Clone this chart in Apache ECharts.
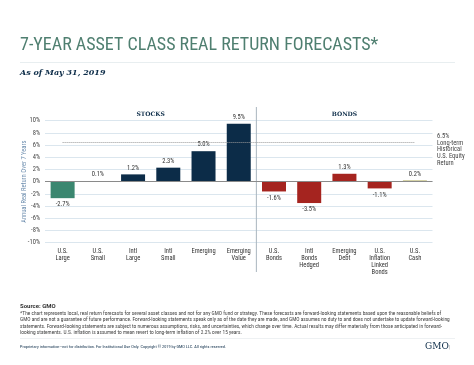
<!DOCTYPE html>
<html><head><meta charset="utf-8">
<script src="https://cdn.jsdelivr.net/npm/echarts@6/dist/echarts.min.js"></script>
<style>html,body{margin:0;padding:0;background:#fff}#c{width:474px;height:365px}</style>
</head><body><div id="c"></div>
<script>
var categories = ['U.S.\nLarge','U.S.\nSmall','Intl\nLarge','Intl\nSmall','Emerging','Emerging\nValue','U.S.\nBonds','Intl\nBonds\nHedged','Emerging\nDebt','U.S.\nInflation\nLinked\nBonds','U.S.\nCash'];
var values = [-2.7, 0.1, 1.2, 2.3, 5.0, 9.5, -1.6, -3.5, 1.3, -1.1, 0.2];
var barColors = ['#3b8770','#0c2c48','#0c2c48','#0c2c48','#0c2c48','#0c2c48','#a5241f','#a5241f','#a5241f','#a5241f','#b0ab55'];
var yTicks = [-10,-8,-6,-4,-2,0,2,4,6,8,10];
var historicalReturn = 6.5;
var footnote = [
 '*The chart represents local, real return forecasts for several asset classes and not for any GMO fund or strategy. These forecasts are forward-looking statements based upon the reasonable beliefs of',
 'GMO and are not a guarantee of future performance. Forward-looking statements speak only as of the date they are made, and GMO assumes no duty to and does not undertake to update forward-looking',
 'statements. Forward-looking statements are subject to numerous assumptions, risks, and uncertainties, which change over time. Actual results may differ materially from those anticipated in forward-',
 'looking statements. U.S. inflation is assumed to mean revert to long-term inflation of 2.2% over 15 years.'
];

var narrow = '"Liberation Sans Narrow", "Roboto Condensed", Roboto';
var chart = echarts.init(document.getElementById('c'));
var option = {
  animation:false,
  grid:{left:45,right:41.5,top:120.7,bottom:122.3},
  xAxis:{type:'category',data:categories,
    axisLine:{show:false,onZero:false},axisTick:{show:false},
    axisLabel:{interval:0,fontSize:6.5,color:'#333',lineHeight:7,margin:5,fontFamily:narrow}},
  yAxis:{type:'value',min:-10,max:10,interval:2,
    name:'Annual Real Return Over 7 Years',nameLocation:'middle',nameGap:17,nameRotate:90,nameMoveOverlap:false,
    nameTextStyle:{fontSize:6.5,color:'#7090b0',fontFamily:narrow},
    axisLabel:{formatter:function(v){return v+'%';},fontSize:6.5,color:'#444',margin:5,fontFamily:narrow},
    axisLine:{show:false},axisTick:{show:false},
    splitLine:{lineStyle:{color:'#dbe6ee',width:1}}},
  series:[{type:'bar',barWidth:24,
    data:values.map(function(v,i){return {value:v,itemStyle:{color:barColors[i]},
      label:{position:v>=0?'top':'bottom'}};}),
    label:{show:true,fontSize:6.5,color:'#333',distance:3,fontFamily:narrow,
      formatter:function(p){return p.value.toFixed(1)+'%';}},
    markLine:{silent:true,symbol:'none',label:{show:false},
      data:[
        [{coord:[categories[0],historicalReturn]},{coord:[categories[categories.length-1],historicalReturn]}],
        {yAxis:0,lineStyle:{type:'solid',color:'#8a8a8a',width:1}}
      ],
      lineStyle:{type:'dotted',color:'#999',width:1}
    }
  }]
};
chart.setOption(option);

var sep = (chart.convertToPixel({xAxisIndex:0},categories[5]) + chart.convertToPixel({xAxisIndex:0},categories[6]))/2;
var stocksX = (chart.convertToPixel({xAxisIndex:0},categories[0]) + chart.convertToPixel({xAxisIndex:0},categories[5]))/2;
var bondsX = (chart.convertToPixel({xAxisIndex:0},categories[6]) + chart.convertToPixel({xAxisIndex:0},categories[10]))/2;
var hrY = chart.convertToPixel({yAxisIndex:0},historicalReturn);

var g = [
  {type:'text',left:20,top:36.5,style:{text:'7-YEAR ASSET CLASS REAL RETURN FORECASTS*',fontSize:18,fontFamily:narrow,fill:'#4f7f70'}},
  {type:'rect',shape:{x:20,y:62,width:435,height:1},style:{fill:'#e8eef0'}},
  {type:'text',left:20,top:69,style:{text:'As of May 31, 2019',fontSize:8,fontFamily:'DejaVu Serif',fontStyle:'italic',fontWeight:'bold',fill:'#0c2c48'}},
  {type:'line',shape:{x1:sep,y1:107,x2:sep,y2:272},style:{stroke:'#aab5bf',lineWidth:1}},
  {type:'text',x:stocksX,y:114,style:{text:'STOCKS',fontSize:6,fontFamily:'DejaVu Serif',fontWeight:'bold',fill:'#0c2c48',textAlign:'center',textVerticalAlign:'middle'}},
  {type:'text',x:bondsX,y:114,style:{text:'BONDS',fontSize:6,fontFamily:'DejaVu Serif',fontWeight:'bold',fill:'#0c2c48',textAlign:'center',textVerticalAlign:'middle'}},
  {type:'text',x:437,y:hrY-9,style:{text:'6.5%\nLong-term\nHistorical\nU.S. Equity\nReturn',fontSize:6.5,lineHeight:6.7,fontFamily:narrow,fill:'#444'}},
  {type:'text',left:20,top:303,style:{text:'Source: GMO',fontSize:6,fontWeight:'bold',fontFamily:'Roboto',fill:'#333'}},
  {type:'text',left:20,top:310,style:{text:footnote.join('\n'),fontSize:5.4,lineHeight:6.6,fontFamily:narrow,fill:'#444'}},
  {type:'rect',shape:{x:20,y:338,width:435,height:1},style:{fill:'#eef1f3'}},
  {type:'text',left:20,top:344.5,style:{text:'Proprietary information\u2014not for distribution. For Institutional Use Only. Copyright \u00a9 2019 by GMO LLC. All rights reserved.',fontSize:4.3,fontFamily:narrow,fill:'#0c2c48'}},
  {type:'text',left:425,top:342,style:{text:'GMO',fontSize:9,fontFamily:'DejaVu Serif',fill:'#0c2c48'}},
  {type:'text',left:449,top:344,style:{text:'|',fontSize:6,fontFamily:'Roboto',fill:'#999'}}
];
chart.setOption({graphic:g});
</script></body></html>
